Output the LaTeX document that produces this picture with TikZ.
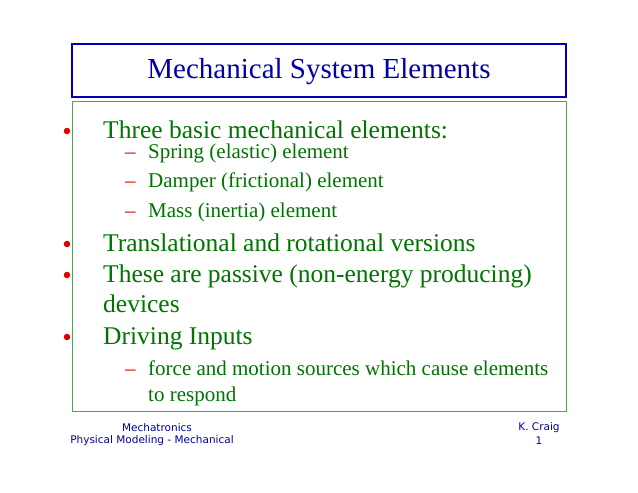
\documentclass[tikz,border=0pt]{standalone}
\usepackage{fontspec}
\setmainfont{Liberation Serif}
\newfontfamily\footfont{DejaVu Sans}
\begin{document}
\begin{tikzpicture}[x=1pt,y=-1pt,
  tcol/.style={text=green!45!black},
  big/.style={tcol,anchor=base west,inner sep=0,font=\fontsize{25.5}{28}\selectfont},
  sub/.style={tcol,anchor=base west,inner sep=0,font=\fontsize{21}{24}\selectfont},
  bul/.style={circle,fill=red!85!black,minimum size=6.5pt,inner sep=0},
  dsh/.style={anchor=base west,inner sep=0,text=red!85!black,font=\fontsize{21}{24}\selectfont},
  foot/.style={text=blue!60!black,inner sep=0,font=\footfont\fontsize{10.5}{12}\selectfont}]
\useasboundingbox (0,0) rectangle (638,493);
\draw[blue!70!black,line width=1.2pt] (72,44) rectangle (566,97);
\node[text=blue!65!black,font=\fontsize{29}{32}\selectfont,inner sep=0] (title) at (319,72) {Mechanical System Elements};
\draw[green!50!black!70,line width=0.8pt] (72,101) rectangle (566,411);
\foreach \y/\t [count=\i] in {130/Three basic mechanical elements:,243/Translational and rotational versions,274/These are passive (non-energy producing),336/Driving Inputs}{
  \node[bul] (b\i) at (67,\y+1) {};
  \node[big] (t\i) at (103,\y+8) {\t};}
\node[big] (dev) at (103,312) {devices};
\foreach \y/\t [count=\i] in {152/Spring (elastic) element,181/Damper (frictional) element,211/Mass (inertia) element,369/force and motion sources which cause elements}{
  \node[dsh] (d\i) at (125,\y+6) {–};
  \node[sub] (s\i) at (148,\y+6) {\t};}
\node[sub] (resp) at (148,401) {to respond};
\node[foot] (f1) at (157,428) {Mechatronics};
\node[foot] (f2) at (152,441) {Physical Modeling - Mechanical};
\node[foot] (f3) at (539,428) {K. Craig};
\node[foot] (f4) at (539,441) {1};
\end{tikzpicture}
\end{document}
